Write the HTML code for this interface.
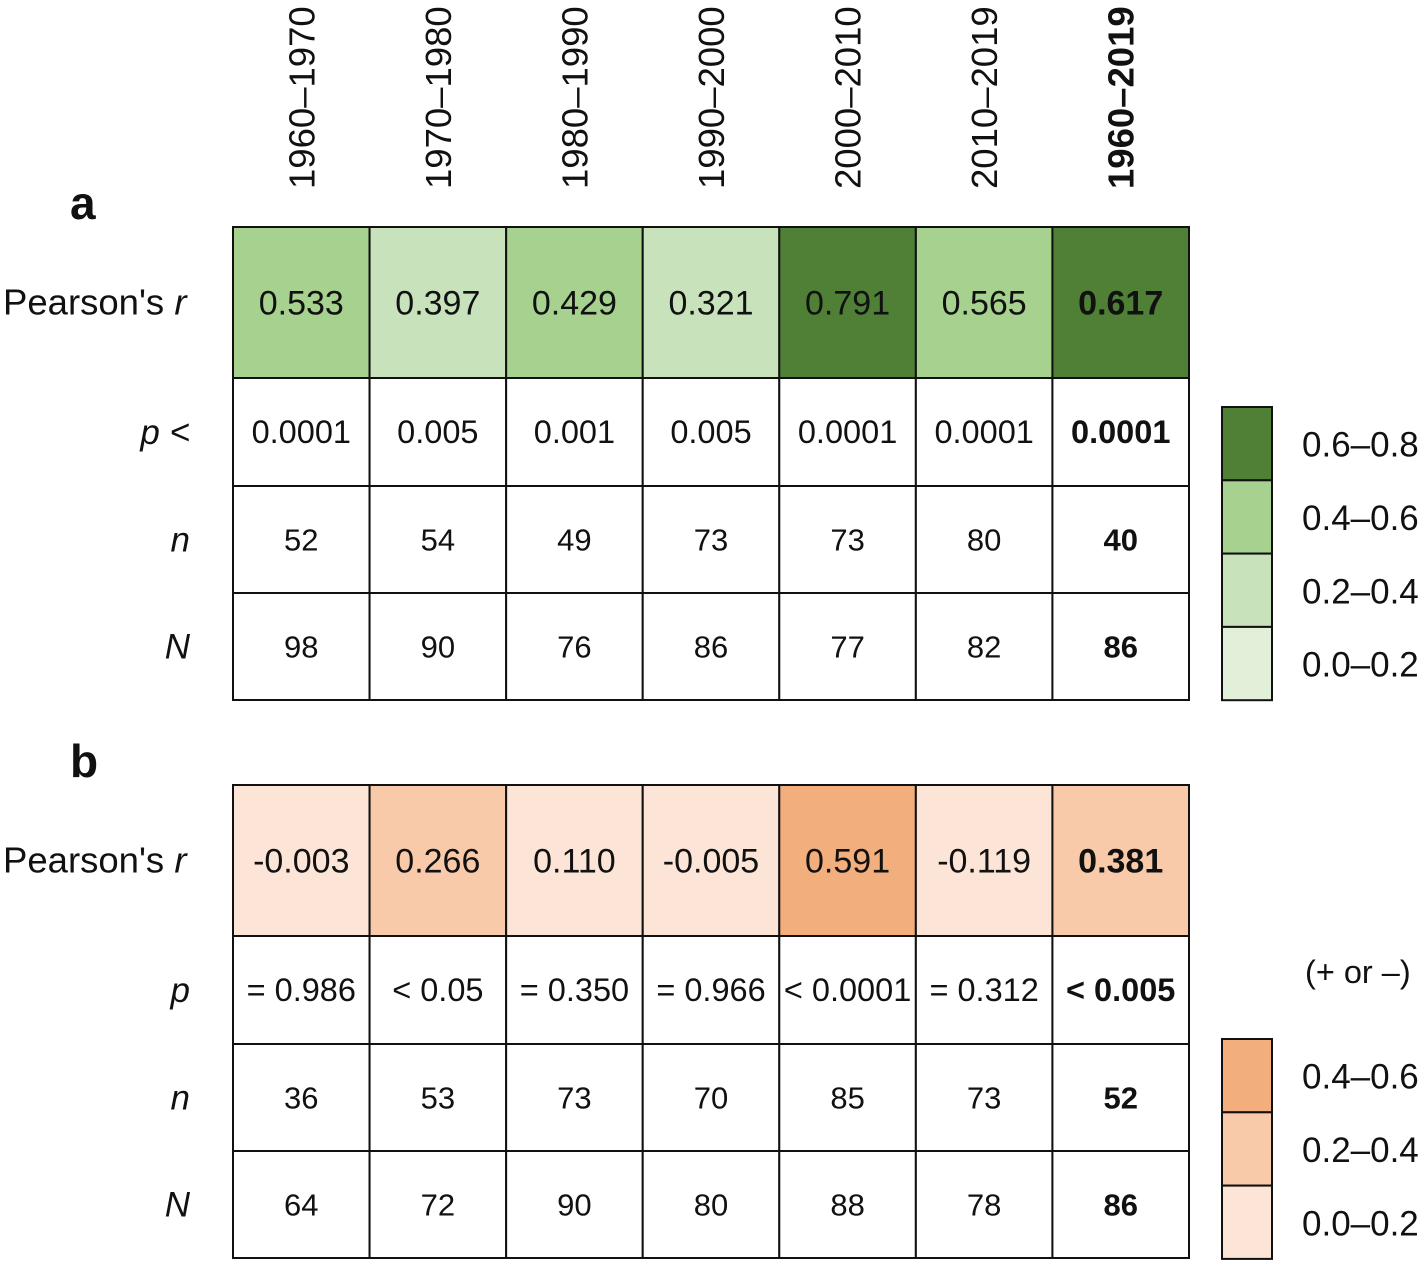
<!DOCTYPE html>
<html><head><meta charset="utf-8"><style>
html,body{margin:0;padding:0;background:#fff;}
svg text{font-family:"Liberation Sans",Arial,sans-serif;fill:#111;}
</style></head><body>
<svg id="chart" width="1425" height="1265" xmlns="http://www.w3.org/2000/svg"></svg>
<script>
const periods=["1960–1970","1970–1980","1980–1990","1990–2000","2000–2010","2010–2019","1960–2019"];
const aR=[0.533,0.397,0.429,0.321,0.791,0.565,0.617];
const aP=["0.0001","0.005","0.001","0.005","0.0001","0.0001","0.0001"];
const an=[52,54,49,73,73,80,40];
const aN=[98,90,76,86,77,82,86];
const bR=[-0.003,0.266,0.110,-0.005,0.591,-0.119,0.381];
const bP=["= 0.986","< 0.05","= 0.350","= 0.966","< 0.0001","= 0.312","< 0.005"];
const bn=[36,53,73,70,85,73,52];
const bN=[64,72,90,80,88,78,86];
const greenBins=["0.0–0.2","0.2–0.4","0.4–0.6","0.6–0.8"];
const greenCols=["#e2f0da","#c8e3bb","#a6d18e","#4f8035"];
const orangeBins=["0.0–0.2","0.2–0.4","0.4–0.6"];
const orangeCols=["#fce4d6","#f8caa9","#f3ae7e"];

const svg=document.getElementById('chart');
const NS="http://www.w3.org/2000/svg";
function el(tag,attrs,txt){const e=document.createElementNS(NS,tag);for(const k in attrs)e.setAttribute(k,attrs[k]);if(txt!==undefined)e.textContent=txt;svg.appendChild(e);return e;}
const x0=233,x1=1189,cw=(x1-x0)/periods.length;
const colX=i=>x0+i*cw;
const binIdx=v=>Math.min(Math.floor(Math.abs(v)/0.2),3);

periods.forEach((p,i)=>{
  const cx=colX(i)+cw/2+13;
  const t=el('text',{x:cx,y:189,transform:`rotate(-90 ${cx} 189)`,'font-size':36.5,'font-weight':i===6?'bold':'normal'},p);
  
  
});

function panel(letter,top,rows,cols,pLabel){
  const L=el('text',{x:70,y:top-8,'font-size':46,'font-weight':'bold'},letter);
  
  
  const ys=[top,top+151,top+259,top+366,top+473];
  rows.forEach((arr,r)=>{
    arr.forEach((v,i)=>{
      let fill='#fff';
      if(r===0) fill=cols[binIdx(v)];
      const rc=el('rect',{x:colX(i),y:ys[r],width:cw,height:ys[r+1]-ys[r],fill:fill,stroke:'#111','stroke-width':2});
      
      
      const txt=r===0?v.toFixed(3):String(v);
      const t=el('text',{x:colX(i)+cw/2,y:(ys[r]+ys[r+1])/2+(r===0?12:11),'text-anchor':'middle','font-size':r===0?34:(r===1?32.5:31),'font-weight':i===6?'bold':'normal'},txt);
      
      
    });
  });
  const rl=el('text',{x:3,y:(ys[0]+ys[1])/2+12,'font-size':36.5});
  
  
  rl.innerHTML="Pearson's <tspan font-style='italic'>r</tspan>";
  [pLabel,'n','N'].forEach((lab,k)=>{
    const t=el('text',{x:190,y:(ys[k+1]+ys[k+2])/2+12,'text-anchor':'end','font-size':35,'font-style':'italic'},lab);
    
    
  });
}
panel('a',227,[aR,aP,an,aN],greenCols,'p <');
panel('b',785,[bR,bP,bn,bN],orangeCols,'p');

function legend(top,cols,bins,name){
  const h=73.3;
  for(let k=cols.length-1;k>=0;k--){
    const j=cols.length-1-k;
    const y=top+j*h;
    const r=el('rect',{x:1222,y:y,width:50,height:h,fill:cols[k],stroke:'#111','stroke-width':2});
    
    
    const t=el('text',{x:1302,y:y+h/2+13,'font-size':35},bins[k]);
    
    
  }
}
legend(407,greenCols,greenBins,'legend-a');
legend(1039,orangeCols,orangeBins,'legend-b');
const s=el('text',{x:1305,y:983,'font-size':32.5},'(+ or –)');


</script>
</body></html>
